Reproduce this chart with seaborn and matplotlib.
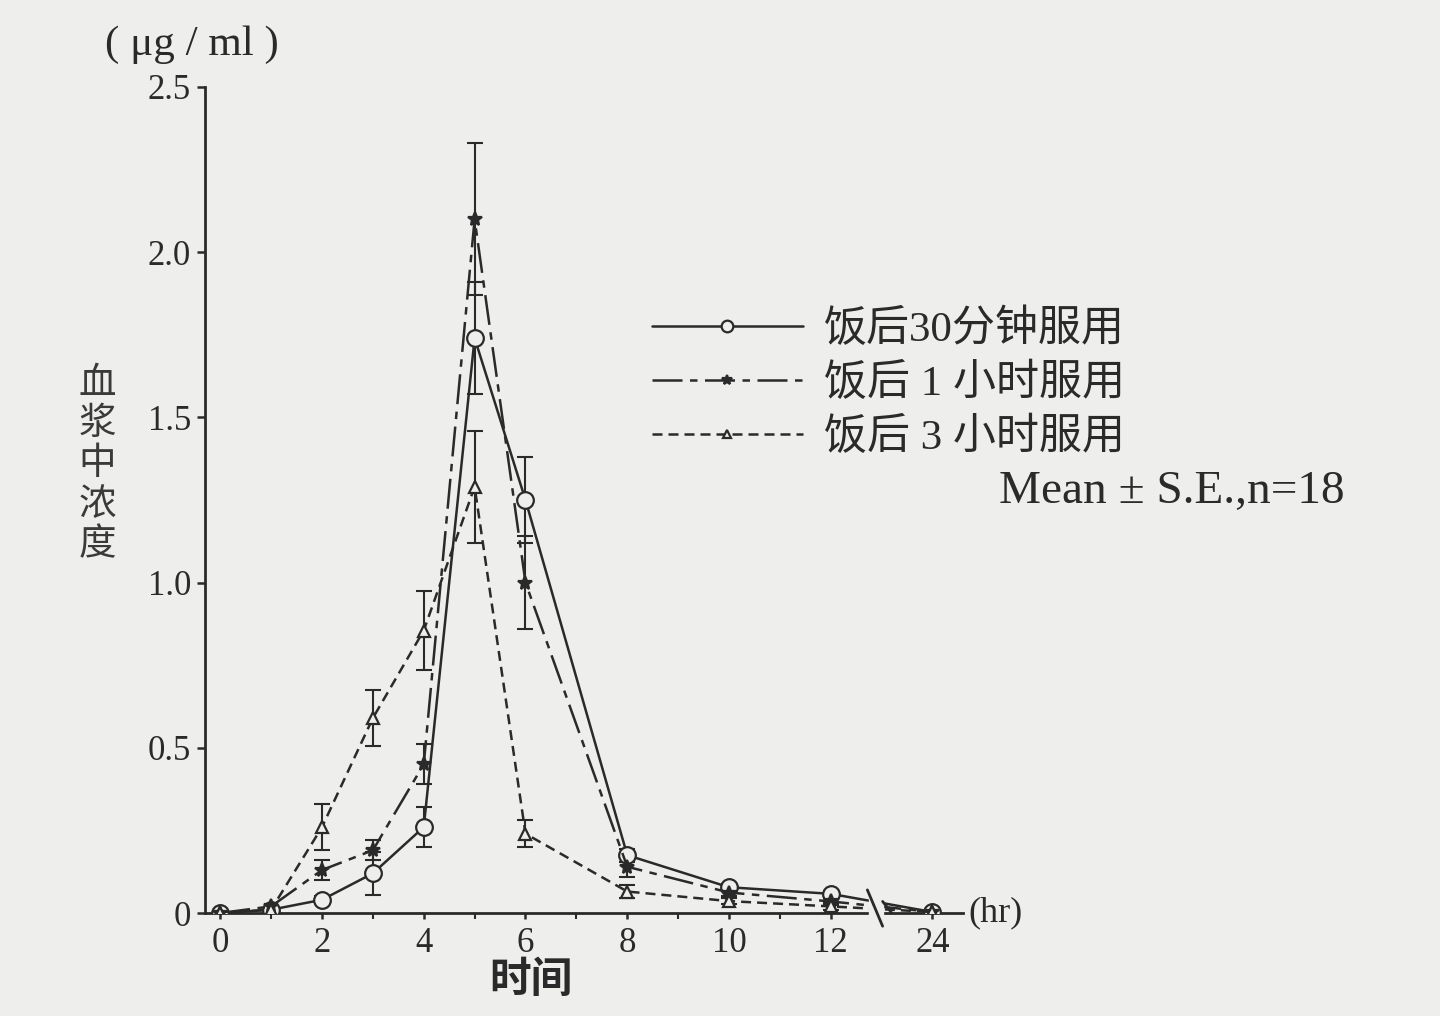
import matplotlib
matplotlib.use("Agg")
import matplotlib.pyplot as plt
import seaborn as sns
import numpy as np
import pandas as pd

# ---------------- data ----------------
times = [0, 1, 2, 3, 4, 5, 6, 8, 10, 12, 24]          # hr
series_names = ["饭后30分钟服用", "饭后 1 小时服用", "饭后 3 小时服用"]
conc_30min = [0.00, 0.01, 0.04, 0.12, 0.26, 1.74, 1.25, 0.175, 0.078, 0.058, 0.003]
se_30min   = [0.00, 0.00, 0.01, 0.065, 0.06, 0.17, 0.13, 0.02, 0.01, 0.01, 0.00]
conc_1h    = [0.00, 0.02, 0.13, 0.19, 0.45, 2.10, 1.00, 0.14, 0.062, 0.035, 0.003]
se_1h      = [0.00, 0.00, 0.03, 0.03, 0.06, 0.23, 0.14, 0.03, 0.01, 0.01, 0.00]
conc_3h    = [0.00, 0.01, 0.26, 0.59, 0.855, 1.29, 0.24, 0.065, 0.036, 0.02, 0.003]
se_3h      = [0.00, 0.00, 0.07, 0.085, 0.12, 0.17, 0.04, 0.02, 0.01, 0.01, 0.00]
x_tick_labels = ["0", "2", "4", "6", "8", "10", "12", "24"]
y_ticks = [0, 0.5, 1.0, 1.5, 2.0, 2.5]
y_tick_labels = ["0", "0.5", "1.0", "1.5", "2.0", "2.5"]

# broken axis: hours 0-12 linear, 24 h drawn at position 14
def axis_pos(t):
    return t if t <= 12 else 14

# ---------------- style ----------------
sns.set_theme(style="ticks")
plt.rcParams["font.family"] = ["Liberation Serif", "Noto Sans CJK SC", "DejaVu Sans"]
INK = "#2a2a2a"
PAPER = "#eeeeec"
plt.rcParams["text.color"] = INK
plt.rcParams["axes.edgecolor"] = INK
plt.rcParams["xtick.color"] = INK
plt.rcParams["ytick.color"] = INK

fig = plt.figure(figsize=(14.4, 10.16), dpi=100)
fig.patch.set_facecolor(PAPER)
ax = fig.add_axes([205 / 1440, 103 / 1016, (963 - 205) / 1440, (913 - 87) / 1016])
ax.set_facecolor(PAPER)

pos = [axis_pos(t) for t in times]

styles = [
    dict(vals=conc_30min, se=se_30min, dash="", marker="o", mfc=PAPER, ms=12),
    dict(vals=conc_1h, se=se_1h, dash=(12, 3, 3, 3), marker="*", mfc=INK, ms=10),
    dict(vals=conc_3h, se=se_3h, dash=(4, 2.4), marker="^", mfc=PAPER, ms=8),
]

handles = []
for name, st in zip(series_names, styles):
    df = pd.DataFrame({"pos": pos, "conc": st["vals"], "group": name})
    sns.lineplot(data=df, x="pos", y="conc", style="group",
                 dashes={name: st["dash"]}, markers={name: st["marker"]},
                 color=INK, linewidth=1.8, markersize=st["ms"],
                 markerfacecolor=st["mfc"], markeredgecolor=INK,
                 markeredgewidth=1.6, ax=ax, legend=False, zorder=3)
    handles.append(ax.lines[-1])
    se = np.array(st["se"])
    m = se > 0
    ax.errorbar(np.array(pos)[m], np.array(st["vals"])[m], yerr=se[m], fmt="none",
                ecolor=INK, elinewidth=1.5, capsize=6, capthick=1.5, zorder=2)

ax.set_xlim(-0.3, 14.6)
ax.set_ylim(0, 2.5)
ax.set_xticks([0, 2, 4, 6, 8, 10, 12, 14])
ax.set_xticklabels(x_tick_labels)
ax.set_xticks([1, 3, 5, 7, 9, 11], minor=True)
ax.set_yticks(y_ticks)
ax.set_yticklabels(y_tick_labels)
ax.tick_params(axis="both", which="major", labelsize=25, length=6, width=1.8,
               direction="out", pad=4)
ax.tick_params(axis="x", which="major", length=4, pad=6)
ax.tick_params(axis="x", which="minor", length=4, width=1.5, direction="out")
sns.despine(ax=ax)
for s in ["left", "bottom"]:
    ax.spines[s].set_linewidth(2)
ax.set_xlabel("")
ax.set_ylabel("血\n浆\n中\n浓\n度", rotation=0, fontsize=27, linespacing=1.22,
              ha="center", va="center", color="#3a3a3a")
ax.yaxis.set_label_coords((97 - 205) / 758, (913 - 465) / 826)

# axis break
ax.axvspan(12.76, 13.02, ymin=-0.02, ymax=0.035, color=PAPER, zorder=6, clip_on=False)
ax.plot([12.72, 13.02], [0.07, -0.04], color=INK, lw=2, zorder=7, clip_on=False)
ax.plot([13.02, 13.2], [0.035, 0.0], color=INK, lw=2, zorder=7, clip_on=False)

ax.text(14.7, 0, "(hr)", fontsize=26, ha="left", va="center")
fig.text(192 / 1440, 1 - 45 / 1016, "( μg / ml )", fontsize=31, ha="center", va="center")
fig.text(531 / 1440, 1 - 980 / 1016, "时间", fontsize=30, fontweight="bold",
         ha="center", va="center", family=["Noto Sans CJK SC"])

leg = fig.legend(handles, series_names, loc="upper left",
                 bbox_to_anchor=(652 / 1440, 1 - 309 / 1016), frameon=False,
                 fontsize=31, handlelength=3.5, handletextpad=0.5,
                 labelspacing=0.32, borderpad=0, borderaxespad=0,
                 markerscale=0.7, numpoints=1)
fig.text(1345 / 1440, 1 - 492 / 1016, "Mean ± S.E.,n=18", fontsize=34,
         ha="right", va="center")

fig.savefig("out.png", dpi=100, facecolor=PAPER)
